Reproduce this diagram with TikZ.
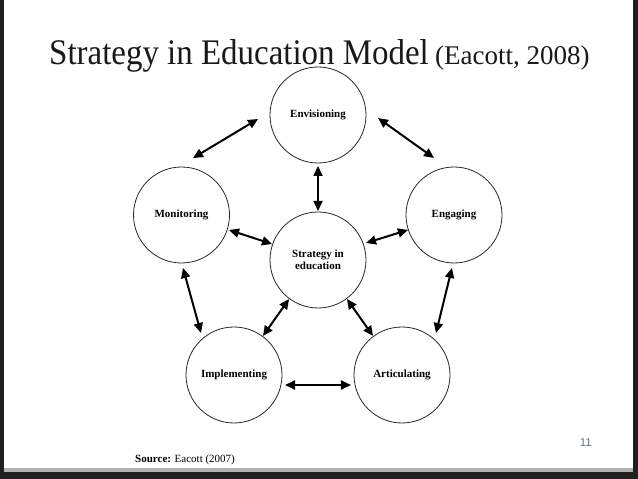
\documentclass[tikz,border=0pt]{standalone}
\usepackage{fontspec}
\setmainfont{Liberation Serif}
\newfontfamily\sansf{Liberation Sans}
\usetikzlibrary{arrows.meta,calc}
\begin{document}
\begin{tikzpicture}[x=1pt,y=1pt,
  stage/.style={circle,draw=black!85,line width=0.8pt,minimum size=96pt,inner sep=0pt,
    font=\fontsize{11}{12.5}\selectfont\bfseries,align=center},
  link/.style={line width=2pt,{Triangle[length=10pt,width=9pt]}-{Triangle[length=10pt,width=9pt]}}]
\fill[white] (0,0) rectangle (638,479);
\fill[black!88] (0,0) rectangle (4,479);
\fill[black!88] (633,0) rectangle (638,479);
\fill[black!88] (0,0) rectangle (638,7);
\fill[black!30] (4,7) rectangle (633,11);
\useasboundingbox (0,0) rectangle (638,479);

\node[anchor=base west,inner sep=0pt,text=black!90] (title) at (49,414)
  {\scalebox{0.915}[1]{\fontsize{36}{40}\selectfont Strategy in Education Model}};
\node[anchor=base west,inner sep=0pt,text=black!90] (cite) at (435,414)
  {\fontsize{27}{30}\selectfont (Eacott, 2008)};

\node[stage] (env) at (318,364) {Envisioning};
\node[stage] (mon) at (181.5,264) {Monitoring};
\node[stage] (eng) at (454,264) {Engaging};
\node[stage] (str) at (318,219) {Strategy in\\education};
\node[stage] (imp) at (234,104) {Implementing};
\node[stage] (art) at (402,104) {Articulating};

\draw[link] ($(env)+(183.8:60.1)$) -- ($(mon)+(78.6:58.1)$);
\draw[link] ($(env)+(-2.9:60.1)$) -- ($(eng)+(109.3:60.4)$);
\draw[link] ($(env)+(270:51)$) -- ($(str)+(90:49)$);
\draw[link] ($(mon)+(-17.5:49.8)$) -- ($(str)+(160.8:48.7)$);
\draw[link] ($(eng)+(198:48.4)$) -- ($(str)+(19.5:50.9)$);
\draw[link] ($(mon)+(271.6:53)$) -- ($(imp)+(128.2:53.4)$);
\draw[link] ($(eng)+(267.8:53)$) -- ($(art)+(51:54)$);
\draw[link] ($(str)+(233.4:48.6)$) -- ($(imp)+(53.4:48.6)$);
\draw[link] ($(str)+(306.6:48.6)$) -- ($(art)+(126.6:48.6)$);
\draw[link] ($(imp)+(-11.1:52)$) -- ($(art)+(191.1:52)$);

\node[anchor=base west,inner sep=0pt] (src) at (135,16)
  {\fontsize{11}{13}\selectfont\textbf{Source:} Eacott (2007)};
\node[anchor=base east,inner sep=0pt,text={rgb,255:red,90;green,118;blue,138}] (pg) at (592,32)
  {\sansf\fontsize{11.5}{13}\selectfont 11};
\end{tikzpicture}
\end{document}
